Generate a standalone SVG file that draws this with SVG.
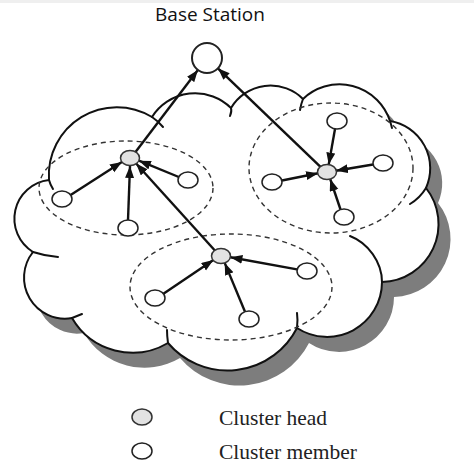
<svg xmlns="http://www.w3.org/2000/svg" width="474" height="475" viewBox="0 0 474 475">
<style>
.cloud{fill:#fff;stroke:#111;stroke-width:2;stroke-linejoin:round}
.tail{fill:none;stroke:#111;stroke-width:2;stroke-linecap:round}
.shadow{fill:#7d7d7d;stroke:none}
.dash{fill:none;stroke:#333;stroke-width:1.4;stroke-dasharray:5 4}
.mem{fill:#fff;stroke:#222;stroke-width:1.5}
.head{fill:#e2e2e2;stroke:#333;stroke-width:1.5}
.bs{fill:#fff;stroke:#222;stroke-width:2}
.arr{stroke:#111;stroke-width:2.4;fill:none;marker-end:url(#ah)}
.title{font-family:"Open Sans","Liberation Sans",sans-serif;font-size:19px;fill:#111}
.leg{font-family:"Liberation Serif","Times New Roman",serif;font-size:21.5px;fill:#222}
</style>
<defs>
<marker id="ah" markerUnits="userSpaceOnUse" markerWidth="13" markerHeight="10" refX="12" refY="4.5" orient="auto">
<path d="M0,0 L12,4.5 L0,9 Z" fill="#111"/>
</marker>
<path id="cloudPath" d="M49,180 A68,68 0 0 1 152,117 A51,51 0 0 1 231,108 A46,46 0 0 1 303,99 A53,53 0 0 1 390,121 A48,48 0 0 1 426,188 A58,58 0 0 1 382,282 A55,55 0 0 1 297,328 A78,78 0 0 1 168,343 A70,70 0 0 1 72,318 A41,41 0 0 1 33,252 A39,39 0 0 1 49,180 Z"/>
</defs>
<rect width="474" height="475" fill="#fff"/>
<rect width="474" height="3" fill="#efefef"/>
<text class="title" x="210" y="21" text-anchor="middle">Base Station</text>
<g id="cloud">
<use href="#cloudPath" class="shadow" transform="translate(12,15)"/>
<use href="#cloudPath" class="cloud"/>
<path class="tail" d="M152,117 Q158,121 163,127"/>
<path class="tail" d="M49,180 Q50,184 53,189"/>
<path class="tail" d="M231,108 Q232,111 230,116"/>
<path class="tail" d="M303,99 Q301,104 300,110"/>
<path class="tail" d="M390,121 Q391,124 392,128"/>
<path class="tail" d="M426,188 Q420,198 410,204"/>
<path class="tail" d="M382,282 C382,262 368,243 350,236"/>
<path class="tail" d="M297,328 Q298,320 297,313"/>
<path class="tail" d="M168,343 Q167,336 167,330"/>
<path class="tail" d="M72,318 Q77,316 82,314"/>
<path class="tail" d="M33,252 Q45,256 58,257"/>
</g>
<g id="clusters">
<ellipse class="dash" cx="126" cy="188" rx="87" ry="47"/>
<ellipse class="dash" cx="331" cy="168" rx="82" ry="65"/>
<ellipse class="dash" cx="231" cy="287" rx="101" ry="53"/>
</g>
<g id="connectors">
<line class="arr" x1="70.6" y1="194.9" x2="121.9" y2="161.9"/>
<line class="arr" x1="128" y1="220" x2="130" y2="166"/>
<line class="arr" x1="178.8" y1="177" x2="138.9" y2="160.7"/>
<line class="arr" x1="214.9" y1="250.5" x2="136.1" y2="163.5"/>
<line class="arr" x1="135.5" y1="152" x2="197.9" y2="69.9"/>
<line class="arr" x1="320.5" y1="166.8" x2="217.9" y2="68.3"/>
<line class="arr" x1="335" y1="129" x2="328.7" y2="164.6"/>
<line class="arr" x1="373" y1="164.5" x2="336" y2="170.8"/>
<line class="arr" x1="282" y1="180.5" x2="318.1" y2="173.3"/>
<line class="arr" x1="340.5" y1="209.5" x2="330.2" y2="179"/>
<line class="arr" x1="163.4" y1="293.7" x2="213.4" y2="260"/>
<line class="arr" x1="297" y1="269.4" x2="230.4" y2="257.3"/>
<line class="arr" x1="245" y1="311.7" x2="224.7" y2="262.9"/>
</g>
<g id="base-station"><circle class="bs" cx="207" cy="58" r="15"/></g>
<g id="ch-left"><ellipse class="head" cx="130" cy="158" rx="9.5" ry="7.5"/></g>
<g id="ch-right"><ellipse class="head" cx="327" cy="172" rx="9.5" ry="7.5"/></g>
<g id="ch-bottom"><ellipse class="head" cx="221" cy="256" rx="9.5" ry="7.5"/></g>
<g id="m-l1"><ellipse class="mem" cx="62" cy="199" rx="10" ry="8"/></g>
<g id="m-l2"><ellipse class="mem" cx="128" cy="228" rx="10" ry="8"/></g>
<g id="m-l3"><ellipse class="mem" cx="188" cy="180" rx="10" ry="8"/></g>
<g id="m-r1"><ellipse class="mem" cx="337" cy="121" rx="10" ry="8"/></g>
<g id="m-r2"><ellipse class="mem" cx="383" cy="163" rx="10" ry="8"/></g>
<g id="m-r3"><ellipse class="mem" cx="272" cy="182" rx="10" ry="8"/></g>
<g id="m-r4"><ellipse class="mem" cx="344" cy="217" rx="10" ry="8"/></g>
<g id="m-b1"><ellipse class="mem" cx="155" cy="298" rx="10" ry="8"/></g>
<g id="m-b2"><ellipse class="mem" cx="307" cy="271" rx="10" ry="8"/></g>
<g id="m-b3"><ellipse class="mem" cx="249" cy="319" rx="10" ry="8"/></g>
<g id="legend">
<ellipse class="head" cx="142" cy="417" rx="10" ry="8"/>
<text class="leg" x="219" y="425">Cluster head</text>
<ellipse class="mem" cx="142" cy="451" rx="10" ry="8"/>
<text class="leg" x="219" y="459">Cluster member</text>
</g>
</svg>
